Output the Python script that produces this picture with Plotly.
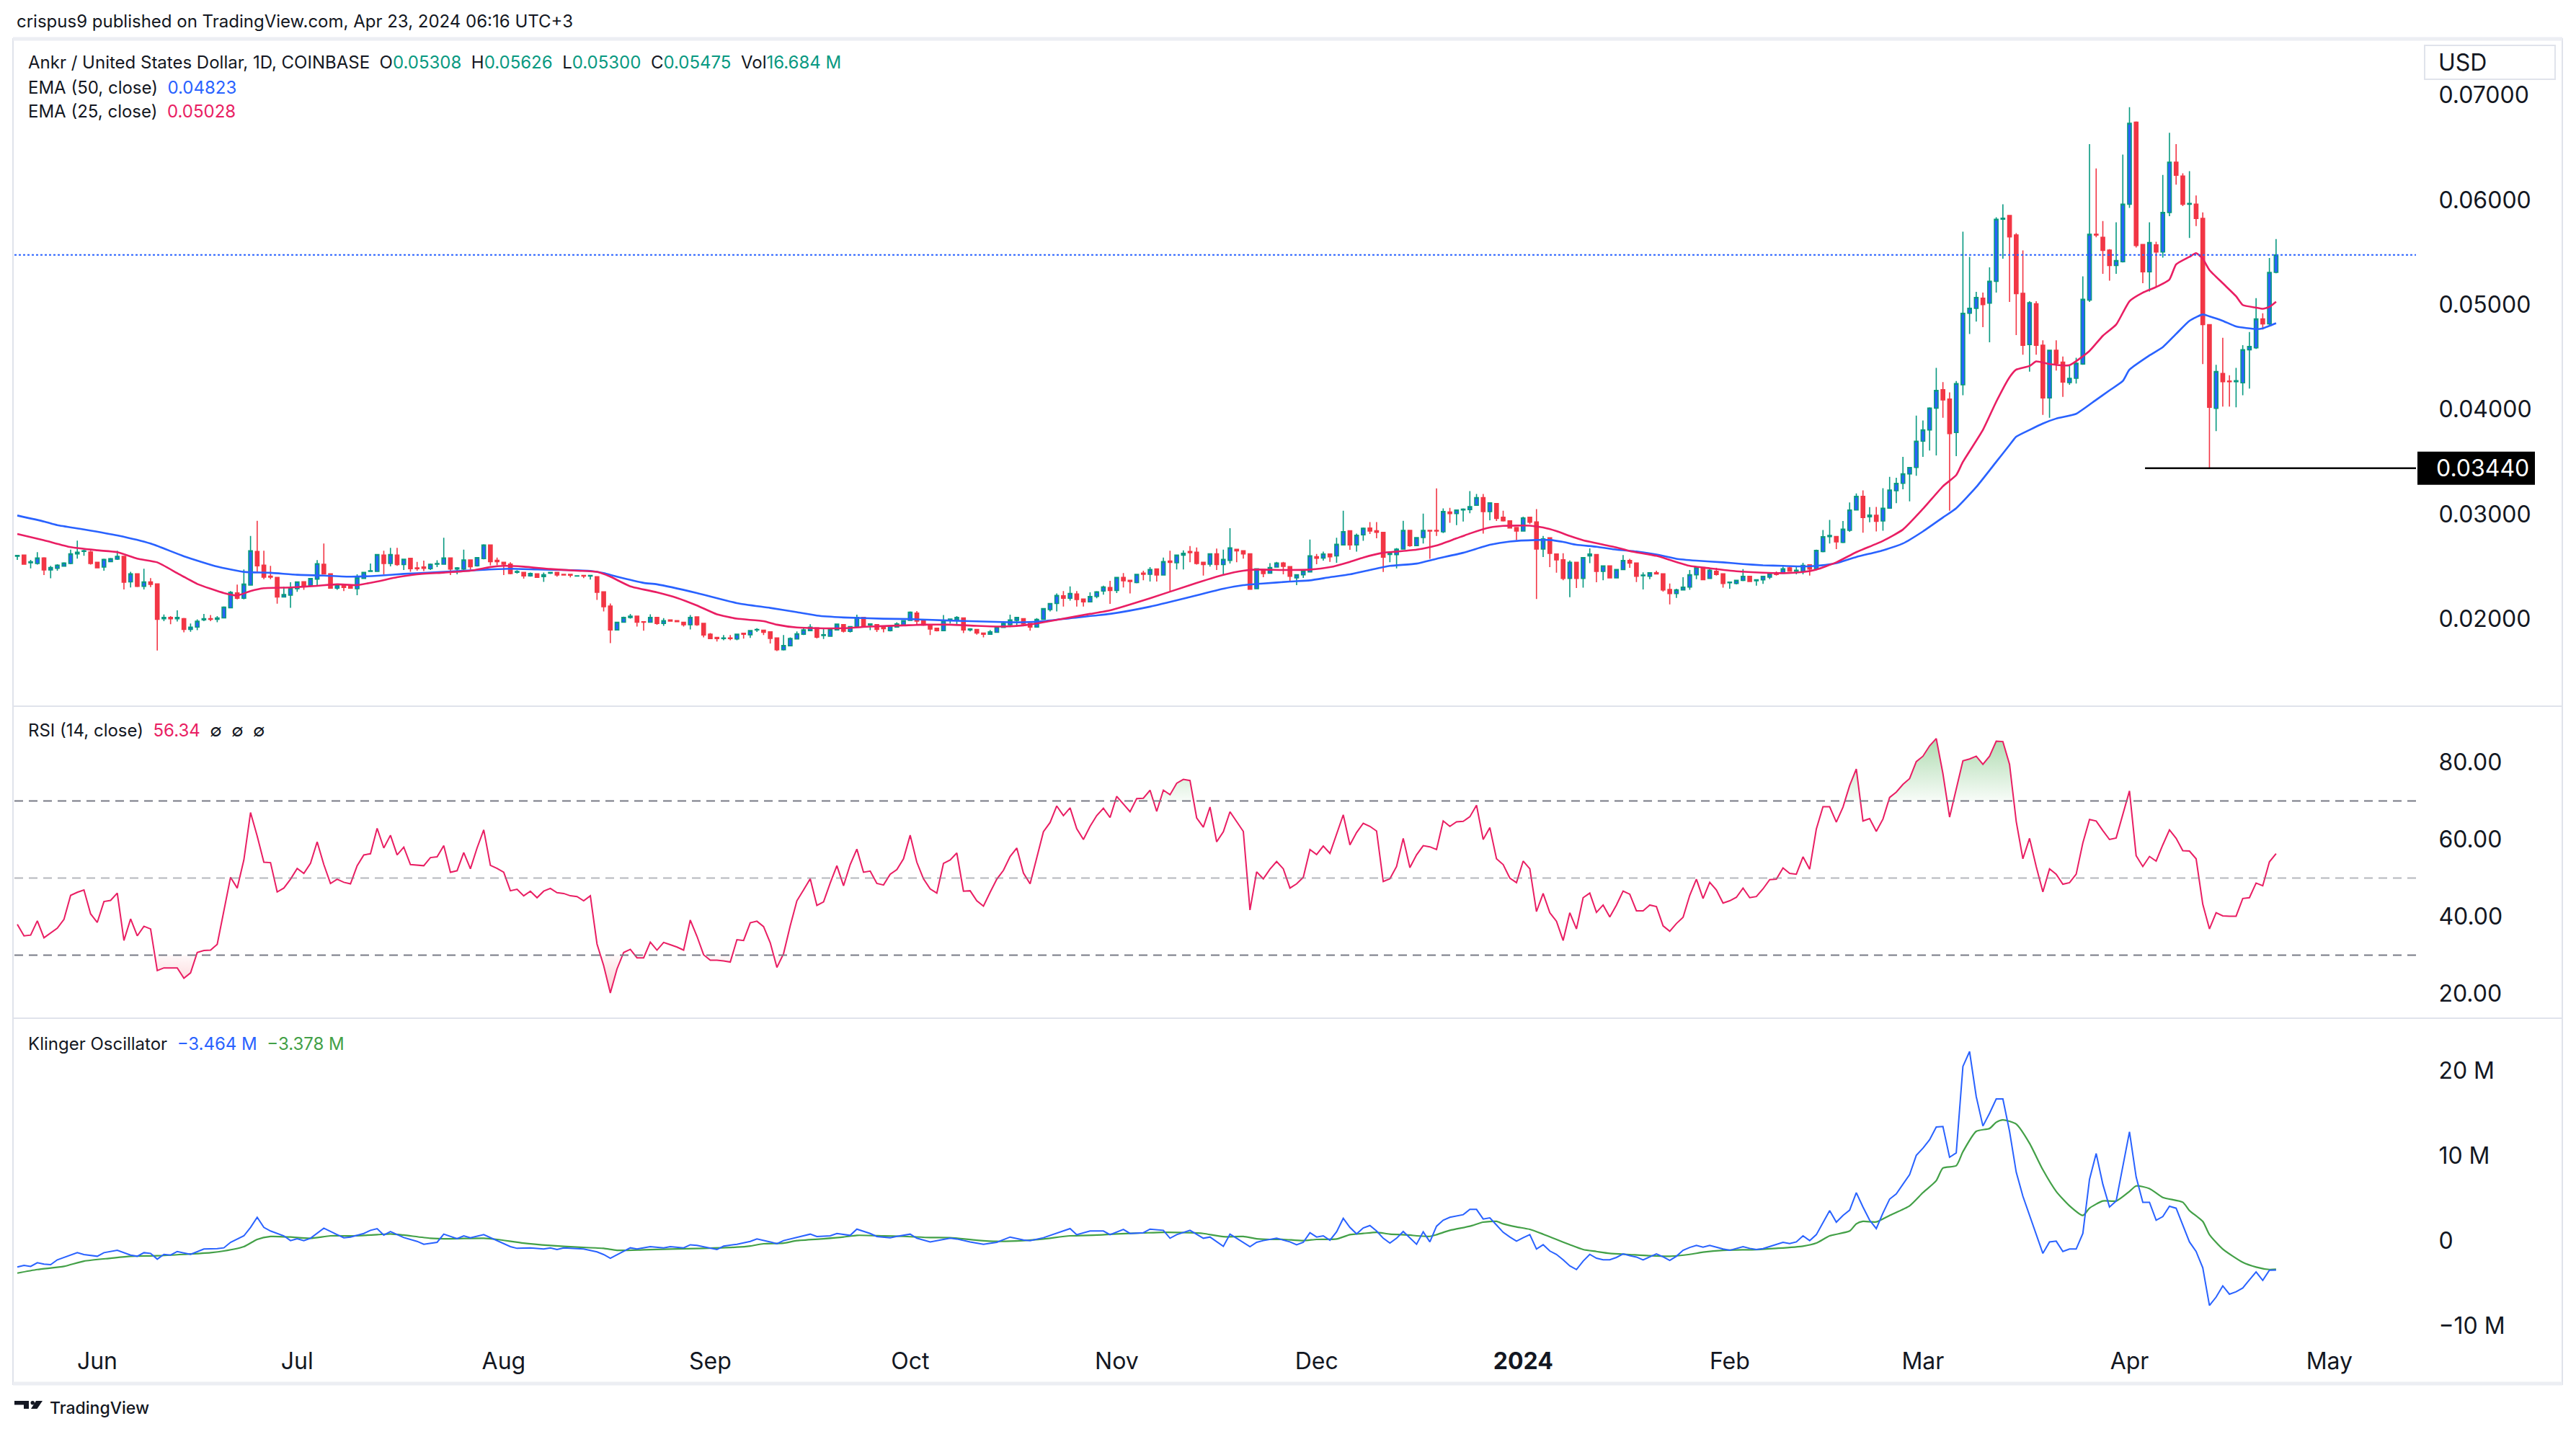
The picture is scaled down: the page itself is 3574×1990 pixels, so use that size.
import numpy as np
import pandas as pd
import plotly.graph_objects as go

# ---------------- data ----------------
start_date = "2023-05-20"   # first daily candle

open_ = [
 .02599,.02610,.02537,.02530,.02583,.02468,.02484,.02505,.02530,.02622,
 .02645,.02640,.02541,.02496,.02548,.02571,.02599,.02354,.02431,.02312,
 .02354,.02335,.02003,.02015,.02003,.02003,.01900,.01923,.01992,.02003,
 .01997,.02010,.02107,.02249,.02198,.02324,.02645,.02514,.02409,.02397,
 .02210,.02228,.02289,.02356,.02322,.02381,.02523,.02431,.02294,.02328,
 .02312,.02289,.02388,.02454,.02454,.02610,.02530,.02610,.02519,.02580,
 .02489,.02496,.02480,.02523,.02523,.02583,.02477,.02477,.02564,.02507,
 .02576,.02706,.02560,.02541,.02525,.02445,.02445,.02411,.02431,.02404,
 .02438,.02445,.02427,.02427,.02409,.02416,.02409,.02404,.02260,.02123,
 .01896,.01969,.02015,.02027,.01974,.01969,.02015,.01958,.01992,.01985,
 .01969,.01946,.02020,.01958,.01855,.01825,.01813,.01820,.01809,.01864,
 .01850,.01896,.01893,.01877,.01820,.01706,.01745,.01809,.01855,.01889,
 .01916,.01843,.01836,.01896,.01946,.01882,.01928,.02015,.01942,.01946,
 .01919,.01889,.01923,.01942,.01987,.02056,.01992,.01939,.01912,.01889,
 .01987,.01992,.02010,.01896,.01900,.01866,.01855,.01873,.01919,.01946,
 .01987,.02003,.01958,.01923,.01997,.02090,.02148,.02221,.02198,.02239,
 .02191,.02164,.02216,.02267,.02301,.02273,.02397,.02370,.02347,.02438,
 .02427,.02477,.02420,.02553,.02537,.02610,.02645,.02638,.02541,.02523,
 .02622,.02519,.02560,.02665,.02651,.02622,.02289,.02472,.02438,.02495,
 .02534,.02500,.02392,.02422,.02449,.02594,.02582,.02621,.02603,.02708,
 .02843,.02708,.02804,.02868,.02843,.02827,.02616,.02614,.02667,.02846,
 .02701,.02777,.02846,.02846,.02832,.03022,.03006,.03040,.03045,.03086,
 .03159,.03026,.03102,.02971,.02937,.02873,.02839,.02971,.02926,.02667,
 .02775,.02621,.02566,.02388,.02541,.02388,.02603,.02616,.02454,.02507,
 .02392,.02472,.02559,.02534,.02413,.02408,.02442,.02431,.02282,.02243,
 .02278,.02305,.02422,.02491,.02388,.02456,.02431,.02346,.02339,.02369,
 .02408,.02365,.02374,.02399,.02442,.02438,.02488,.02456,.02454,.02518,
 .02477,.02644,.02786,.02788,.02731,.02846,.03040,.03171,.02976,.02990,
 .02936,.03058,.03224,.03295,.03385,.03446,.03697,.03805,.04013,.04189,
 .04099,.03780,.04236,.04918,.04965,.05062,.05015,.05223,.05816,.05851,
 .05665,.05108,.04620,.05008,.04613,.04110,.04566,.04451,.04257,.04297,
 .04434,.05044,.05672,.05643,.05522,.05374,.05410,.05959,.06742,.05575,
 .05313,.05571,.05503,.05880,.06361,.06228,.05959,.05959,.05823,.04810,
 .04010,.04344,.04272,.04265,.04254,.04570,.04588,.04864,.04817,.05308]

high_ = [
 .02610,.02615,.02564,.02638,.02590,.02507,.02523,.02541,.02663,.02748,
 .02663,.02651,.02546,.02576,.02583,.02651,.02603,.02450,.02436,.02480,
 .02390,.02340,.02043,.02027,.02082,.02010,.01958,.01997,.02049,.02038,
 .02027,.02120,.02267,.02328,.02473,.02793,.02938,.02651,.02507,.02400,
 .02308,.02351,.02360,.02360,.02390,.02562,.02720,.02436,.02326,.02330,
 .02315,.02427,.02450,.02530,.02620,.02651,.02679,.02679,.02575,.02585,
 .02546,.02557,.02530,.02560,.02775,.02585,.02495,.02663,.02568,.02592,
 .02713,.02710,.02587,.02545,.02541,.02466,.02450,.02443,.02435,.02443,
 .02450,.02450,.02430,.02430,.02418,.02420,.02420,.02408,.02265,.02148,
 .01975,.02022,.02049,.02030,.01978,.02045,.02020,.02008,.01995,.01990,
 .01972,.02038,.02025,.01960,.01866,.01828,.01848,.01848,.01858,.01866,
 .01892,.01912,.01896,.01880,.01825,.01848,.01825,.01882,.01916,.01951,
 .01920,.01905,.01905,.01955,.01950,.01932,.02042,.02020,.01958,.01950,
 .01922,.01940,.01969,.01990,.02072,.02075,.01995,.01942,.01915,.02038,
 .02003,.02027,.02015,.01912,.01903,.01868,.01896,.01928,.01980,.02042,
 .02020,.02008,.01960,.02008,.02105,.02152,.02244,.02267,.02312,.02267,
 .02195,.02255,.02267,.02319,.02365,.02400,.02438,.02372,.02430,.02461,
 .02496,.02480,.02587,.02651,.02615,.02656,.02697,.02683,.02545,.02626,
 .02672,.02663,.02867,.02670,.02655,.02626,.02484,.02475,.02534,.02546,
 .02546,.02503,.02425,.02468,.02759,.02621,.02644,.02624,.02775,.03033,
 .02846,.02816,.02873,.02926,.02926,.02830,.02631,.02678,.02937,.02850,
 .02780,.03006,.02850,.03246,.03056,.03061,.03045,.03056,.03221,.03194,
 .03194,.03112,.03105,.03033,.02940,.02876,.02976,.02974,.03049,.02793,
 .02780,.02625,.02628,.02559,.02545,.02590,.02674,.02620,.02510,.02510,
 .02476,.02610,.02575,.02537,.02445,.02446,.02461,.02434,.02339,.02289,
 .02399,.02468,.02495,.02495,.02488,.02488,.02434,.02356,.02372,.02477,
 .02411,.02378,.02412,.02435,.02454,.02500,.02500,.02507,.02536,.02521,
 .02662,.02850,.02946,.02791,.02935,.03113,.03198,.03228,.03068,.03069,
 .03249,.03356,.03349,.03547,.03450,.03942,.03895,.04020,.04397,.04261,
 .04164,.04272,.05697,.05457,.05123,.05116,.05356,.05834,.05959,.05855,
 .05683,.05518,.05033,.05033,.04660,.04570,.04660,.04505,.04426,.04494,
 .05270,.06533,.06300,.05798,.05530,.05787,.06433,.06885,.06750,.05580,
 .05787,.05600,.06239,.06641,.06533,.06254,.06275,.06042,.05880,.04815,
 .04426,.04685,.04326,.04397,.04613,.04739,.05062,.04918,.05446,.05626]

low_ = [
 .02564,.02519,.02484,.02519,.02420,.02388,.02461,.02500,.02523,.02576,
 .02603,.02519,.02484,.02461,.02541,.02564,.02283,.02301,.02305,.02283,
 .02305,.01699,.01980,.01951,.01976,.01873,.01878,.01893,.01980,.01980,
 .01969,.02005,.02103,.02187,.02187,.02320,.02450,.02381,.02381,.02146,
 .02205,.02107,.02260,.02278,.02315,.02324,.02427,.02290,.02278,.02267,
 .02290,.02228,.02385,.02450,.02450,.02427,.02503,.02507,.02468,.02450,
 .02461,.02457,.02468,.02496,.02519,.02420,.02427,.02461,.02473,.02500,
 .02570,.02512,.02512,.02420,.02427,.02434,.02386,.02404,.02395,.02354,
 .02430,.02404,.02415,.02397,.02405,.02390,.02377,.02182,.02073,.01770,
 .01890,.01965,.02003,.01928,.01889,.01965,.01946,.01935,.01975,.01970,
 .01928,.01900,.01935,.01825,.01809,.01786,.01797,.01797,.01797,.01813,
 .01820,.01877,.01848,.01767,.01694,.01700,.01740,.01805,.01848,.01885,
 .01815,.01809,.01830,.01890,.01871,.01871,.01925,.01923,.01893,.01877,
 .01873,.01882,.01920,.01938,.01985,.01939,.01935,.01848,.01882,.01885,
 .01958,.01946,.01866,.01882,.01850,.01825,.01850,.01870,.01915,.01923,
 .01928,.01946,.01889,.01920,.01995,.02072,.02072,.02118,.02175,.02118,
 .02118,.02160,.02198,.02232,.02145,.02248,.02301,.02244,.02340,.02370,
 .02358,.02358,.02415,.02255,.02473,.02473,.02541,.02519,.02415,.02500,
 .02468,.02415,.02530,.02541,.02576,.02280,.02285,.02399,.02435,.02490,
 .02426,.02358,.02323,.02392,.02445,.02523,.02557,.02546,.02536,.02701,
 .02660,.02644,.02747,.02811,.02770,.02449,.02541,.02484,.02664,.02690,
 .02695,.02720,.02575,.02793,.02820,.02919,.02896,.02930,.03010,.03080,
 .02816,.02942,.02935,.02930,.02865,.02754,.02835,.02907,.02191,.02591,
 .02495,.02442,.02369,.02209,.02296,.02300,.02534,.02351,.02369,.02388,
 .02388,.02468,.02488,.02353,.02282,.02381,.02428,.02262,.02140,.02202,
 .02271,.02278,.02381,.02369,.02385,.02415,.02300,.02289,.02330,.02362,
 .02353,.02319,.02335,.02381,.02415,.02431,.02452,.02426,.02426,.02415,
 .02468,.02637,.02720,.02667,.02724,.02832,.03036,.02823,.02923,.02836,
 .02843,.03055,.03105,.03238,.03123,.03367,.03547,.03608,.03561,.03920,
 .03033,.03554,.04135,.04721,.04839,.04785,.04642,.05115,.05439,.05026,
 .04710,.04523,.04361,.04523,.03949,.03920,.04372,.04121,.04236,.04247,
 .04426,.05026,.05643,.05295,.05230,.05295,.05403,.05923,.05546,.05205,
 .05126,.05177,.05449,.05844,.06146,.05941,.05636,.05751,.04433,.03440,
 .03794,.04028,.04028,.04020,.04135,.04200,.04577,.04764,.04803,.05300]

close_ = [
 .02606,.02523,.02546,.02583,.02468,.02491,.02514,.02534,.02622,.02638,
 .02651,.02530,.02489,.02569,.02576,.02599,.02351,.02431,.02312,.02354,
 .02331,.01997,.02015,.02003,.02015,.01900,.01923,.01980,.02003,.01997,
 .02010,.02114,.02255,.02198,.02333,.02651,.02507,.02399,.02399,.02210,
 .02233,.02294,.02354,.02322,.02386,.02528,.02431,.02294,.02322,.02301,
 .02294,.02393,.02445,.02461,.02615,.02530,.02615,.02519,.02571,.02480,
 .02480,.02484,.02523,.02530,.02583,.02477,.02489,.02564,.02500,.02587,
 .02706,.02548,.02548,.02523,.02434,.02454,.02411,.02434,.02397,.02422,
 .02445,.02420,.02420,.02418,.02413,.02409,.02416,.02255,.02118,.01896,
 .01969,.02015,.02027,.01969,.01969,.02015,.01958,.01985,.01980,.01974,
 .01946,.02015,.01946,.01848,.01813,.01813,.01820,.01813,.01855,.01855,
 .01889,.01900,.01873,.01815,.01706,.01747,.01815,.01859,.01896,.01923,
 .01827,.01850,.01900,.01951,.01884,.01928,.02015,.01930,.01953,.01900,
 .01907,.01935,.01953,.01985,.02065,.01980,.01942,.01905,.01889,.01980,
 .01999,.02015,.01896,.01905,.01866,.01855,.01877,.01923,.01958,.01992,
 .02015,.01953,.01923,.01997,.02099,.02148,.02225,.02198,.02244,.02187,
 .02164,.02214,.02260,.02306,.02273,.02397,.02365,.02358,.02427,.02427,
 .02473,.02420,.02548,.02541,.02610,.02628,.02633,.02530,.02519,.02622,
 .02519,.02569,.02679,.02651,.02622,.02285,.02480,.02433,.02491,.02534,
 .02502,.02408,.02422,.02456,.02603,.02580,.02621,.02594,.02713,.02834,
 .02708,.02800,.02866,.02839,.02827,.02591,.02628,.02667,.02846,.02701,
 .02777,.02846,.02839,.02839,.03026,.03006,.03040,.03049,.03072,.03159,
 .03026,.03109,.02960,.02937,.02868,.02839,.02965,.02923,.02667,.02765,
 .02626,.02564,.02388,.02541,.02388,.02587,.02621,.02454,.02507,.02392,
 .02472,.02559,.02534,.02408,.02420,.02442,.02431,.02278,.02243,.02278,
 .02305,.02422,.02491,.02376,.02465,.02426,.02339,.02353,.02369,.02408,
 .02358,.02374,.02408,.02431,.02426,.02479,.02456,.02465,.02513,.02477,
 .02655,.02786,.02797,.02736,.02857,.03040,.03171,.02969,.02992,.02933,
 .03058,.03231,.03295,.03385,.03446,.03697,.03805,.04013,.04182,.04092,
 .03769,.04247,.04918,.04965,.05069,.05001,.05223,.05816,.05826,.05647,
 .05105,.04613,.05019,.04613,.04110,.04566,.04441,.04261,.04297,.04441,
 .05051,.05672,.05665,.05518,.05374,.05421,.05959,.06731,.05564,.05313,
 .05593,.05503,.05880,.06361,.06236,.05959,.05966,.05823,.04810,.04020,
 .04362,.04265,.04265,.04275,.04570,.04602,.04864,.04817,.05308,.05475]

last_volume_m = 16.684

# EMA lines at candle indices
ema50_idx = [0,4,6,10,15,20,25,30,34,38,42,46,50,54,58,62,66,70,74,78,82,86,88,90,94,96,102,108,113,117,120,124,130,134,139,145,149,151,154,158,164,170,176,181,184,187,191,194,197,200,203,206,210,213,217,221,224,228,230,232,234,237,240,243,246,249,252,256,259,262,265,268,270,273,276,280,283,286,289,291,294,297,299,300,302,304,306,309,312,314,316,317,320,322,324,326,328,329,331,333,336,337,339]
ema50_val = [.02988,.02931,.02896,.02855,.02798,.02720,.02599,.02500,.02450,.02441,.02422,.02415,.02404,.02413,.02431,.02443,.02457,.02470,.02480,.02473,.02468,.02459,.02438,.02404,.02345,.02331,.02248,.02152,.02106,.02065,.02033,.02015,.02003,.01999,.01987,.01976,.01969,.01969,.01980,.02008,.02049,.02118,.02210,.02289,.02323,.02339,.02358,.02369,.02399,.02426,.02468,.02507,.02529,.02575,.02632,.02708,.02740,.02754,.02754,.02736,.02708,.02690,.02662,.02644,.02616,.02575,.02557,.02541,.02525,.02513,.02507,.02502,.02507,.02533,.02592,.02656,.02721,.02836,.02969,.03058,.03259,.03500,.03661,.03740,.03805,.03866,.03913,.03959,.04092,.04182,.04272,.04380,.04516,.04595,.04721,.04846,.04907,.04889,.04846,.04792,.04767,.04774,.04823]

ema25_idx = [0,4,8,12,15,18,21,24,27,31,33,35,37,41,45,48,51,54,57,60,64,68,71,73,76,80,84,87,89,92,96,99,102,105,108,112,114,117,120,124,128,133,136,140,144,148,151,154,158,161,164,170,176,181,184,186,190,194,197,200,202,205,207,210,213,216,218,221,223,227,229,231,233,235,237,240,242,246,248,251,254,258,262,265,268,270,273,276,280,283,286,289,291,292,295,297,299,300,302,303,305,308,311,313,315,317,319,321,323,324,326,327,328,329,331,333,334,336,337,338,339]
ema25_val = [.02812,.02752,.02686,.02656,.02638,.02576,.02541,.02438,.02335,.02248,.02225,.02267,.02294,.02301,.02317,.02331,.02324,.02358,.02399,.02427,.02443,.02461,.02496,.02507,.02500,.02477,.02461,.02450,.02404,.02312,.02255,.02202,.02129,.02045,.02003,.01980,.01946,.01919,.01912,.01912,.01928,.01939,.01946,.01946,.01935,.01928,.01939,.01969,.02015,.02049,.02083,.02198,.02324,.02421,.02461,.02472,.02468,.02472,.02495,.02546,.02587,.02632,.02644,.02662,.02701,.02770,.02816,.02873,.02889,.02891,.02873,.02839,.02793,.02752,.02724,.02683,.02649,.02603,.02564,.02507,.02484,.02456,.02442,.02438,.02449,.02472,.02541,.02638,.02746,.02854,.03051,.03267,.03374,.03500,.03805,.04074,.04308,.04380,.04415,.04459,.04433,.04423,.04559,.04703,.04810,.05033,.05115,.05169,.05241,.05385,.05457,.05492,.05439,.05331,.05205,.05080,.04997,.04972,.04961,.04979,.05028]

# RSI (14, close)
rsi_idx = [0,1,2,3,4,6,7,8,9,10,11,12,13,14,15,16,17,18,19,20,21,22,24,25,26,27,28,29,30,31,32,33,34,35,36,37,38,39,40,41,42,43,44,45,46,47,48,49,50,51,52,53,54,55,56,57,58,59,61,62,63,64,65,66,67,68,69,70,71,72,73,74,75,76,77,78,79,80,81,82,83,84,85,86,87,88,89,90,91,92,93,94,95,96,97,98,99,100,101,102,103,104,105,106,107,108,109,110,111,112,113,114,115,116,117,118,119,120,121,122,123,124,125,126,127,128,129,130,131,132,133,134,135,136,137,138,139,140,141,142,143,144,145,146,147,148,149,150,151,152,153,154,155,156,157,158,159,160,161,162,163,164,165,166,167,168,169,170,171,172,173,174,175,176,177,178,179,180,181,182,183,184,185,186,187,188,189,190,191,192,193,194,195,196,197,198,199,200,201,202,203,204,205,206,207,208,209,210,211,212,213,214,215,216,217,218,219,220,221,222,223,224,225,226,227,228,229,230,231,232,233,234,235,236,237,238,239,240,241,242,243,244,245,246,247,248,249,250,251,252,253,254,255,256,257,258,259,260,261,262,263,264,265,266,267,268,269,270,271,272,273,274,275,276,277,278,279,280,281,282,283,284,285,286,287,288,289,290,291,292,293,294,295,296,297,298,299,300,301,302,303,304,305,306,307,308,309,310,311,312,313,314,315,316,317,318,319,320,321,322,323,324,325,326,327,328,329,330,331,332,333,334,335,336,337,338,339]
rsi_val = [38.0,35.0,35.2,38.9,34.5,37.0,39.3,45.5,46.3,46.9,40.7,38.5,43.9,44.2,46.1,33.8,39.4,35.0,37.5,36.8,26.0,26.7,26.7,24.0,25.4,30.7,31.2,31.3,32.8,41.6,50.2,47.4,54.7,67.0,60.9,54.1,54.0,46.4,47.4,49.7,52.5,51.2,53.8,59.4,53.5,48.6,49.7,48.9,48.5,53.2,56.0,56.3,62.9,57.8,61.1,56.0,58.0,53.5,53.2,55.3,55.5,58.4,51.5,51.9,56.6,52.4,57.8,62.5,53.3,52.5,51.5,46.7,47.1,45.4,46.6,44.9,46.6,47.3,46.2,46.0,45.4,45.2,44.1,45.4,32.9,27.3,20.2,26.4,30.7,31.5,29.3,29.3,33.4,31.3,33.3,32.7,32.1,31.3,39.1,34.9,30.1,28.7,28.7,28.5,28.2,34.0,33.8,38.4,38.8,37.4,33.2,26.8,30.4,37.6,44.1,46.9,49.8,42.9,43.8,48.7,53.2,48.0,53.5,57.5,51.5,51.8,48.6,48.2,51.0,52.2,55.0,61.1,54.1,49.8,47.2,46.1,53.8,54.7,56.5,46.6,46.7,44.1,42.7,46.3,49.7,52.0,55.6,57.8,51.3,48.5,55.3,62.0,64.4,68.7,66.2,68.2,62.8,60.0,63.4,66.2,68.1,65.7,71.2,69.3,67.2,70.6,70.7,72.8,67.3,72.8,71.6,74.6,75.6,75.3,65.6,63.2,68.4,59.4,62.0,67.2,64.6,62.1,41.7,51.6,49.8,52.3,54.3,52.4,47.4,48.5,50.2,57.4,56.1,58.3,56.4,61.2,66.4,58.6,61.8,64.2,63.4,62.2,49.1,49.8,53.0,60.3,52.7,56.0,58.4,58.1,57.4,64.8,63.4,64.6,64.7,65.9,68.9,60.0,63.1,55.0,53.5,50.0,48.8,54.4,52.4,41.3,46.0,41.0,38.8,33.8,41.0,36.8,44.9,46.1,41.1,43.0,39.9,43.0,46.6,45.8,41.5,41.5,43.0,42.6,37.6,36.2,38.2,39.8,45.5,49.7,44.7,48.9,46.9,43.5,44.1,45.0,47.4,44.9,45.2,47.2,49.6,49.7,52.6,51.2,51.0,55.5,52.3,62.7,68.5,68.5,64.5,68.4,74.0,78.3,64.8,65.4,62.1,65.3,70.9,72.3,74.3,75.8,80.2,81.6,84.3,86.2,77.1,65.8,73.1,80.4,80.9,81.6,79.5,81.6,85.5,85.4,79.5,64.7,55.0,60.3,53.0,46.4,52.4,51.0,48.4,48.8,51.0,59.1,65.2,64.8,62.3,60.0,60.4,66.5,72.6,55.8,53.0,55.6,54.4,58.6,62.5,60.3,57.1,57.0,55.0,43.2,36.8,41.0,40.2,40.1,40.1,44.7,44.9,48.7,48.0,54.2,56.34]

# Klinger Oscillator (millions)
ko_idx = [0,1,2,3,4,5,6,9,10,12,13,15,17,18,19,20,21,22,23,24,26,28,30,31,32,34,35,36,37,38,40,41,42,43,44,46,48,49,50,52,53,54,55,56,58,60,61,63,64,66,67,68,70,72,74,75,77,79,80,81,82,84,85,87,88,89,91,92,93,95,97,98,100,101,102,104,105,106,108,110,111,113,114,115,117,119,120,122,123,125,126,128,129,131,132,134,135,137,140,141,143,145,147,149,151,152,154,156,158,159,161,163,164,166,167,169,170,172,173,174,176,178,179,181,182,183,185,186,187,189,191,192,193,194,195,196,197,198,199,200,201,202,203,204,205,206,207,208,209,210,211,212,213,214,215,217,218,219,220,221,222,223,224,225,226,227,228,229,230,231,232,233,234,235,236,237,238,239,240,241,242,243,244,245,246,247,248,249,250,251,252,253,254,255,256,257,258,259,260,261,262,263,264,265,266,267,268,269,270,271,272,273,274,275,276,277,278,279,280,281,282,283,284,285,286,287,288,289,290,291,292,293,294,295,296,297,298,299,300,301,302,303,304,305,306,307,308,309,310,311,312,313,314,315,316,317,318,319,320,321,322,323,324,325,326,327,328,329,330,331,332,333,334,335,336,337,338,339]
ko_val = [-3.12,-2.92,-3.04,-2.61,-2.78,-2.84,-2.27,-1.43,-1.65,-1.85,-1.43,-1.15,-1.71,-1.85,-1.43,-1.51,-2.19,-1.63,-1.71,-1.29,-1.63,-1.00,-0.95,-0.86,-0.21,0.55,1.54,2.73,1.54,1.12,0.55,-0.01,0.21,-0.01,0.27,1.45,0.69,0.33,0.41,0.83,1.20,1.40,0.64,1.06,0.35,-0.10,-0.44,-0.21,0.75,0.21,0.55,0.33,0.69,-0.01,-0.72,-0.92,-0.86,-1.00,-0.86,-1.06,-0.86,-0.95,-1.00,-1.34,-1.65,-2.08,-1.29,-0.86,-1.00,-0.72,-0.86,-0.72,-0.86,-0.50,-0.58,-0.86,-1.06,-0.66,-0.44,-0.10,0.18,-0.16,-0.38,-0.01,0.35,0.75,0.47,0.55,0.83,0.61,1.34,0.83,0.47,0.33,0.49,0.75,0.27,-0.16,0.27,0.18,-0.16,-0.44,-0.21,0.41,0.07,-0.01,0.33,0.89,1.40,0.69,1.12,1.12,0.69,1.31,0.83,0.92,1.34,1.20,0.27,0.69,1.20,0.27,0.41,-0.69,0.75,0.27,-0.72,-0.21,-0.01,0.27,-0.16,-0.50,-0.21,0.92,0.41,0.55,0.04,1.03,2.61,1.54,0.78,1.48,1.76,1.12,0.27,-0.30,0.27,1.06,0.33,-0.44,1.03,-0.16,1.68,2.39,2.73,3.04,3.66,3.66,2.53,2.67,1.82,0.97,0.41,-0.07,0.33,0.69,-1.00,-0.49,-1.23,-1.63,-2.27,-2.98,-3.41,-2.42,-1.63,-2.08,-2.27,-2.27,-1.99,-1.57,-1.77,-1.94,-2.27,-1.91,-1.57,-1.91,-2.33,-1.85,-1.15,-0.81,-0.58,-0.78,-0.58,-0.78,-1.00,-1.15,-0.95,-0.72,-0.92,-1.06,-0.95,-0.72,-0.49,-0.21,-0.35,-0.16,0.55,-0.01,0.69,2.10,3.52,2.16,2.95,3.57,5.63,3.94,2.39,1.40,3.23,4.87,5.49,6.62,7.75,10.01,10.86,11.85,13.35,13.40,9.79,10.30,20.47,22.22,16.93,13.46,14.96,16.65,16.65,12.84,8.04,5.21,2.95,0.69,-1.51,-0.16,-0.07,-1.29,-1.00,-1.00,0.83,7.19,10.24,6.62,3.94,4.65,8.60,12.78,7.47,4.50,4.50,2.39,2.81,4.03,3.80,1.82,-0.16,-1.29,-3.21,-7.64,-6.65,-5.33,-6.31,-6.03,-5.58,-4.62,-3.69,-4.68,-3.49,-3.464]

sig_idx = [0,3,7,10,14,17,21,25,29,31,34,36,38,41,44,47,50,54,56,58,62,65,70,72,76,80,84,88,90,94,98,103,108,110,112,115,117,121,124,126,130,133,137,140,144,147,151,154,158,162,165,169,172,176,178,181,184,186,188,190,193,195,198,200,202,204,206,209,210,212,213,215,218,220,222,223,225,227,229,231,233,235,237,239,242,245,248,251,253,256,261,264,268,270,272,275,276,277,279,281,284,286,288,289,291,292,294,296,297,298,300,302,304,306,308,310,311,313,315,317,318,320,322,325,326,328,329,331,334,336,338,339]
sig_val = [-3.83,-3.41,-3.04,-2.42,-2.08,-1.85,-1.79,-1.63,-1.43,-1.23,-0.72,0.13,0.47,0.41,0.27,0.55,0.55,0.69,0.78,0.64,0.27,0.21,0.27,0.13,-0.30,-0.58,-0.78,-0.92,-1.15,-1.09,-1.00,-0.92,-0.78,-0.64,-0.38,-0.30,-0.01,0.21,0.41,0.61,0.55,0.49,0.35,0.33,0.04,-0.10,-0.01,0.18,0.55,0.64,0.78,0.89,0.97,0.92,0.83,0.45,0.47,0.21,0.13,0.13,-0.01,0.13,0.18,0.69,0.83,0.97,0.75,0.64,0.55,0.49,0.69,1.20,1.68,2.16,2.25,1.96,1.60,1.31,0.75,0.13,-0.49,-1.06,-1.29,-1.51,-1.65,-1.79,-1.85,-1.63,-1.37,-1.15,-1.06,-0.92,-0.66,-0.30,0.55,1.12,1.96,2.25,2.19,2.95,4.08,5.63,7.05,8.52,8.80,10.44,12.84,13.18,13.91,14.19,13.69,11.43,8.32,5.78,4.08,2.95,3.80,4.65,4.65,5.78,6.42,6.11,5.07,4.50,3.52,2.25,0.69,-1.00,-2.56,-3.12,-3.41,-3.378]

# axes / annotations
month_ticks = ["2023-06-01","2023-07-01","2023-08-01","2023-09-01","2023-10-01","2023-11-01",
               "2023-12-01","2024-01-01","2024-02-01","2024-03-01","2024-04-01","2024-05-01"]
month_labels = ["Jun","Jul","Aug","Sep","Oct","Nov","Dec","<b>2024</b>","Feb","Mar","Apr","May"]
price_ticks = [0.02, 0.03, 0.04, 0.05, 0.06, 0.07]
rsi_ticks = [20, 40, 60, 80]
ko_ticks = [-10, 0, 10, 20]
ko_labels = ["\u221210 M", "0", "10 M", "20 M"]
rsi_levels = [70, 50, 30]
support_level = 0.0344
support_start = "2024-04-03 08:00"

# ---------------- styling ----------------
W, H = 3574, 1990
OFF = 8                                      # default page margin around the figure
FW, FH = W - 2 * OFF, H - 2 * OFF            # figure size
PL, PR, PT, PB = 20, 3352, 57, 1855          # plot area in page pixels
P_PRICE_BOT, P_RSI_BOT = 980, 1413           # pane borders in page pixels
def px(X): return (X - PL) / (PR - PL)
def py(Y): return (PB - Y) / (PB - PT)

FONT = "Inter, Roboto, 'Noto Sans', sans-serif"
TEXT = "#131722"
UP_LINE, UP_FILL, DOWN = "#089981", "#2962ff", "#f23645"
BLUE, PINK, GREEN = "#2962ff", "#e91e63", "#43a047"
BORDER = "#e0e3eb"
AX = 32
LEG = 24

t0 = pd.Timestamp(start_date)
dates = pd.date_range(start_date, periods=len(close_), freq="D")
def idx_to_dt(idx):
    return t0 + pd.to_timedelta(np.asarray(idx, dtype=float), unit="D")
x_start = t0 - pd.Timedelta(hours=10.5)
x_end = t0 + pd.Timedelta(days=360)

price_range = [0.01168, 0.07516]
rsi_range = [13.64, 94.58]
ko_range = [-11.31, 26.14]

fig = go.Figure()

fig.add_trace(go.Candlestick(
    x=dates, open=open_, high=high_, low=low_, close=close_,
    increasing=dict(line=dict(color=UP_LINE, width=1.6), fillcolor=UP_FILL),
    decreasing=dict(line=dict(color=DOWN, width=1.6), fillcolor=DOWN),
    whiskerwidth=0, xaxis="x", yaxis="y", showlegend=False, hoverinfo="skip"))

fig.add_trace(go.Scatter(x=idx_to_dt(ema50_idx), y=ema50_val, mode="lines",
    line=dict(color=BLUE, width=2.6, shape="spline", smoothing=0.5),
    xaxis="x", yaxis="y", hoverinfo="skip"))
fig.add_trace(go.Scatter(x=idx_to_dt(ema25_idx), y=ema25_val, mode="lines",
    line=dict(color=PINK, width=2.6, shape="spline", smoothing=0.5),
    xaxis="x", yaxis="y", hoverinfo="skip"))

# RSI zone fills
def band(idx, vals, level, above):
    xs, ys = [], []
    for k in range(len(vals)):
        if k > 0:
            a, b = vals[k - 1], vals[k]
            if (a - level) * (b - level) < 0:
                t = (level - a) / (b - a)
                xs.append(idx[k - 1] + t * (idx[k] - idx[k - 1]))
                ys.append(level)
        xs.append(idx[k])
        ys.append(max(vals[k], level) if above else min(vals[k], level))
    return xs, ys

for level, above, cs in [
    (70, True, [[0, "rgba(76,175,80,0.04)"], [1, "rgba(76,175,80,0.45)"]]),
    (30, False, [[0, "rgba(242,54,69,0.25)"], [1, "rgba(242,54,69,0.03)"]]),
]:
    bx, byv = band(rsi_idx, rsi_val, level, above)
    fig.add_trace(go.Scatter(x=idx_to_dt(bx), y=[level] * len(bx), mode="lines",
                             line=dict(width=0), xaxis="x", yaxis="y2", hoverinfo="skip"))
    fig.add_trace(go.Scatter(x=idx_to_dt(bx), y=byv, mode="lines", line=dict(width=0),
                             fill="tonexty", fillgradient=dict(type="vertical", colorscale=cs),
                             xaxis="x", yaxis="y2", hoverinfo="skip"))

fig.add_trace(go.Scatter(x=idx_to_dt(rsi_idx), y=rsi_val, mode="lines",
    line=dict(color=PINK, width=2), xaxis="x", yaxis="y2", hoverinfo="skip"))

fig.add_trace(go.Scatter(x=idx_to_dt(sig_idx), y=sig_val, mode="lines",
    line=dict(color=GREEN, width=2.2, shape="spline", smoothing=0.6),
    xaxis="x", yaxis="y3", hoverinfo="skip"))
fig.add_trace(go.Scatter(x=idx_to_dt(ko_idx), y=ko_val, mode="lines",
    line=dict(color=BLUE, width=2), xaxis="x", yaxis="y3", hoverinfo="skip"))

# ---------------- shapes ----------------
shapes = []
shapes.append(dict(type="line", xref="paper", x0=0, x1=1, yref="y",
                   y0=close_[-1], y1=close_[-1], line=dict(color=BLUE, width=2, dash="dot")))
shapes.append(dict(type="line", xref="x", x0=support_start, x1=x_end, yref="y",
                   y0=support_level, y1=support_level, line=dict(color="#000000", width=2.5)))
for lv in rsi_levels:
    shapes.append(dict(type="line", xref="paper", x0=0, x1=1, yref="y2", y0=lv, y1=lv,
                       line=dict(color="#787b86" if lv != 50 else "rgba(120,123,134,0.55)",
                                 width=2, dash="12px,8px")))
for Y in (P_PRICE_BOT, P_RSI_BOT):
    shapes.append(dict(type="line", xref="paper", yref="paper", x0=px(18), x1=px(3554),
                       y0=py(Y), y1=py(Y), line=dict(color=BORDER, width=2)))
shapes.append(dict(type="rect", xref="paper", yref="paper", x0=px(18), x1=px(3555),
                   y0=py(1921), y1=py(54), line=dict(color=BORDER, width=2)))
shapes.append(dict(type="line", xref="paper", yref="paper", x0=px(18), x1=px(3555),
                   y0=py(54), y1=py(54), line=dict(color="#eceef3", width=5)))
shapes.append(dict(type="line", xref="paper", yref="paper", x0=px(18), x1=px(3555),
                   y0=py(1920), y1=py(1920), line=dict(color="#eceef3", width=5)))
shapes.append(dict(type="rect", xref="paper", yref="paper", x0=px(3364), x1=px(3545),
                   y0=py(110), y1=py(63), line=dict(color=BORDER, width=2), fillcolor="white"))
sup_Y = PT + (price_range[1] - support_level) / (price_range[1] - price_range[0]) * (P_PRICE_BOT - PT)
shapes.append(dict(type="rect", xref="paper", yref="paper", x0=px(3354), x1=px(3517),
                   y0=py(sup_Y + 23), y1=py(sup_Y - 23), line=dict(width=0), fillcolor="#000000"))
# TradingView logo glyph
def P(X, Y): return f"{px(X):.6f},{py(Y):.6f}"
shapes.append(dict(type="path", xref="paper", yref="paper",
                   path=f"M{P(20,1944)} L{P(40,1944)} L{P(40,1955)} L{P(33,1955)} L{P(33,1949.5)} L{P(20,1949.5)} Z",
                   fillcolor=TEXT, line=dict(width=0)))
shapes.append(dict(type="circle", xref="paper", yref="paper", x0=px(42.5), x1=px(48),
                   y0=py(1949.5), y1=py(1944), fillcolor=TEXT, line=dict(width=0)))
shapes.append(dict(type="path", xref="paper", yref="paper",
                   path=f"M{P(50,1944)} L{P(59,1944)} L{P(51.5,1955)} L{P(43,1955)} Z",
                   fillcolor=TEXT, line=dict(width=0)))

# ---------------- annotations ----------------
def ann(X, Y, text, size=LEG, color=TEXT, xanchor="left", weight="normal"):
    return dict(xref="paper", yref="paper", x=px(X), y=py(Y), text=text, showarrow=False,
                xanchor=xanchor, yanchor="middle", align="left",
                font=dict(family=FONT, size=size, color=color, weight=weight))

def sp(txt, col): return f"<span style='color:{col}'>{txt}</span>"
NB = "\u00a0"
o, h, l, c = open_[-1], high_[-1], low_[-1], close_[-1]
line1 = ("Ankr / United States Dollar, 1D, COINBASE" + NB * 2 +
         "O" + sp(f"{o:.5f}", UP_LINE) + NB * 2 + "H" + sp(f"{h:.5f}", UP_LINE) + NB * 2 +
         "L" + sp(f"{l:.5f}", UP_LINE) + NB * 2 + "C" + sp(f"{c:.5f}", UP_LINE) + NB * 2 +
         "Vol" + sp(f"{last_volume_m:.3f}" + NB + "M", UP_LINE))
def mfmt(v): return f"{v:.3f}".replace("-", "\u2212") + NB + "M"
annotations = [
    ann(21, 30, "crispus9 published on TradingView.com, Apr 23, 2024 06:16 UTC+3"),
    ann(37, 87, line1),
    ann(37, 121, "EMA (50, close)" + NB * 2 + sp(f"{ema50_val[-1]:.5f}", BLUE)),
    ann(37, 155, "EMA (25, close)" + NB * 2 + sp(f"{ema25_val[-1]:.5f}", PINK)),
    ann(37, 1013, "RSI (14, close)" + NB * 2 + sp(f"{rsi_val[-1]:.2f}", PINK) + NB * 2 +
        "\u2205" + NB * 2 + "\u2205" + NB * 2 + "\u2205"),
    ann(37, 1448, "Klinger Oscillator" + NB * 2 + sp(mfmt(ko_val[-1]), BLUE) + NB * 2 +
        sp(mfmt(sig_val[-1]), GREEN)),
    ann(3381, 87, "USD", size=AX),
    ann(3378, sup_Y, f"{support_level:.5f}", size=AX, color="white"),
    ann(67, 1954, "TradingView", size=23, weight=500),
]

# ---------------- layout ----------------
tick_hidden = dict(ticks="outside", tickcolor="rgba(0,0,0,0)", showgrid=False,
                   zeroline=False, showline=False)
fig.update_layout(
    width=FW, height=FH,
    margin=dict(l=PL - OFF, r=(OFF + FW) - PR, t=PT - OFF, b=(OFF + FH) - PB, pad=0),
    paper_bgcolor="white", plot_bgcolor="white",
    font=dict(family=FONT, size=AX, color=TEXT),
    showlegend=False, hovermode=False, boxgap=0.22,
    xaxis=dict(type="date", range=[x_start, x_end], anchor="y3",
               tickvals=month_ticks, ticktext=month_labels, ticklen=6,
               tickfont=dict(size=AX, color=TEXT),
               rangeslider=dict(visible=False), **tick_hidden),
    yaxis=dict(domain=[py(P_PRICE_BOT), 1], anchor="x", side="right", range=price_range,
               tickvals=price_ticks, ticktext=[f"{v:.5f}" for v in price_ticks],
               ticklen=24, tickfont=dict(size=AX, color=TEXT), **tick_hidden),
    yaxis2=dict(domain=[py(P_RSI_BOT), py(P_PRICE_BOT)], anchor="x", side="right",
                range=rsi_range, tickvals=rsi_ticks, ticktext=[f"{v:.2f}" for v in rsi_ticks],
                ticklen=24, tickfont=dict(size=AX, color=TEXT), **tick_hidden),
    yaxis3=dict(domain=[0, py(P_RSI_BOT)], anchor="x", side="right", range=ko_range,
                tickvals=ko_ticks, ticktext=ko_labels,
                ticklen=24, tickfont=dict(size=AX, color=TEXT), **tick_hidden),
    shapes=shapes, annotations=annotations,
)

fig.write_html("out.html")
